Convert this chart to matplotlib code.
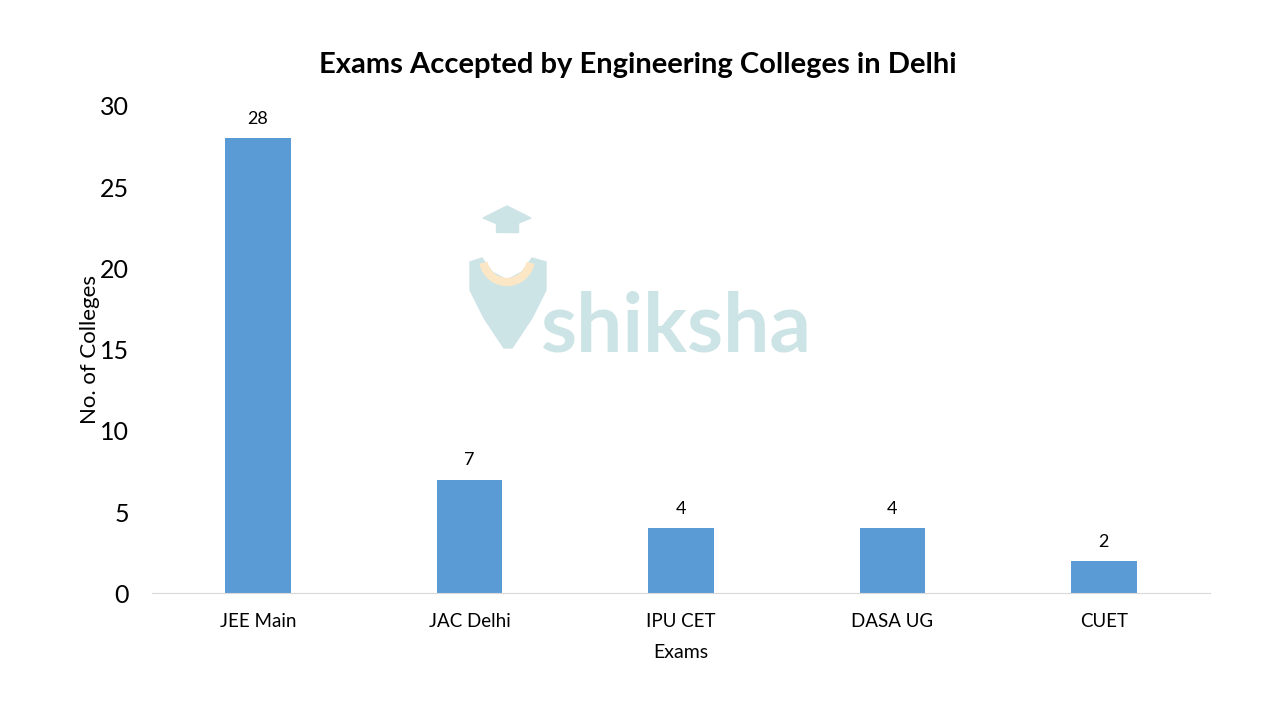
import numpy as np
import matplotlib.pyplot as plt
from matplotlib.patches import Polygon, Arc

exams = ['JEE Main', 'JAC Delhi', 'IPU CET', 'DASA UG', 'CUET']
colleges = [28, 7, 4, 4, 2]
yticks = [0, 5, 10, 15, 20, 25, 30]

plt.rcParams['font.family'] = ['Lato', 'DejaVu Sans']

fig = plt.figure(figsize=(12.8, 7.2), dpi=100)
ax = fig.add_axes([0.119, 0.176, 0.826, 0.677])

x = np.arange(len(exams))
bars = ax.bar(x, colleges, width=0.31, color='#5B9BD5', zorder=3)
for b, v in zip(bars, colleges):
    ax.annotate(str(v), (b.get_x() + b.get_width() / 2, v), xytext=(0, 8),
                textcoords='offset points', ha='center', va='bottom', fontsize=13)

ax.set_xlim(-0.5, len(exams) - 0.5)
ax.set_ylim(0, 30)
ax.set_yticks(yticks)
ax.set_xticks(x)
ax.set_xticklabels(exams, fontsize=13.5)
ax.tick_params(axis='y', labelsize=18, length=0, pad=17)
ax.tick_params(axis='x', length=0, pad=14)

for s in ['top', 'right', 'left']:
    ax.spines[s].set_visible(False)
ax.spines['bottom'].set_color('#d9d9d9')
ax.spines['bottom'].set_zorder(4)

ax.set_xlabel('Exams', fontsize=14, labelpad=10)
ax.set_ylabel('No. of Colleges', fontsize=16, labelpad=0)
fig.text(0.498, 0.91, 'Exams Accepted by Engineering Colleges in Delhi',
         ha='center', va='center', fontsize=21, fontweight='bold')

# watermark (logo + text), in pixel units of the 1280x720 canvas
wm = '#cde4e6'
def px(pts):
    return [(a / 1280, 1 - b / 720) for a, b in pts]

fig.patches.append(Polygon(px([(483, 218), (507, 206), (531, 218), (507, 228)]),
                           closed=True, color=wm, transform=fig.transFigure, zorder=0))
fig.patches.append(Polygon(px([(496, 222), (518, 222), (518, 232), (496, 232)]),
                           closed=True, color=wm, transform=fig.transFigure, zorder=0))
nib = [(470, 262), (482, 258), (492, 272), (507, 280), (522, 272), (532, 258),
       (546, 262), (546, 290), (532, 318), (512, 348), (504, 348), (484, 318), (470, 290)]
fig.patches.append(Polygon(px(nib), closed=True, color=wm,
                           transform=fig.transFigure, zorder=0))
fig.patches.append(Arc((507 / 1280, 1 - 258 / 720), 48 / 1280, 48 / 720, theta1=200,
                       theta2=340, color='#fbe7c6', lw=6, transform=fig.transFigure, zorder=0))
fig.text(0.423, 0.545, 'shiksha', ha='left', va='center', fontsize=59,
         fontweight='bold', color=wm, zorder=1)

fig.savefig('out.png', dpi=100)
